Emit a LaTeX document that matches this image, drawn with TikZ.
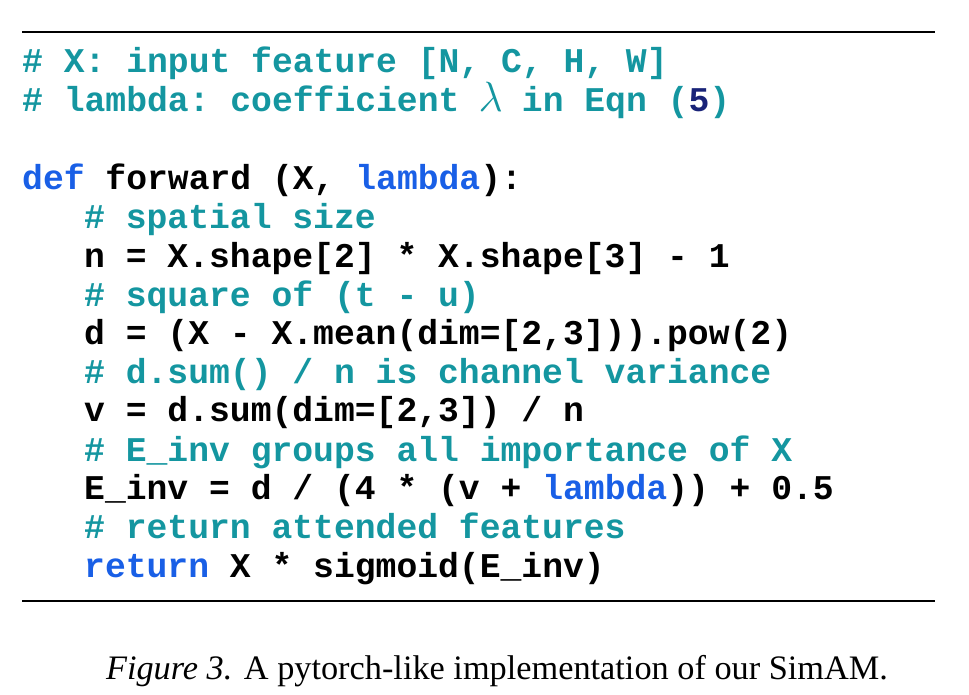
\documentclass[tikz,border=0pt]{standalone}
\usepackage{fontspec}
\setmonofont{Liberation Mono}
\setmainfont{Liberation Serif}
\definecolor{cmt}{RGB}{20,150,160}
\definecolor{kw}{RGB}{25,95,230}
\definecolor{num}{RGB}{25,35,120}
\tikzset{code/.style={anchor=base west,inner sep=0pt,font=\fontsize{34.7}{36}\ttfamily\bfseries},
rule/.style={line width=1.2pt}}
\begin{document}
\begin{tikzpicture}[x=1pt,y=-1pt]
\useasboundingbox (0,0) rectangle (969,694);
\coordinate (r1a) at (22,32); \coordinate (r1b) at (935,32);
\coordinate (r2a) at (22,601); \coordinate (r2b) at (935,601);
\draw[rule] (r1a) -- (r1b);
\draw[rule] (r2a) -- (r2b);
\node[code] (l1) at (22,72) {\color{cmt}\# X: input feature [N, C, H, W]};
\node[code] (l2) at (22,111) {\color{cmt}\# lambda: coefficient \makebox[20.8pt]{\scalebox{1.7}{$\lambda$}} in Eqn (\textcolor{num}{5})};
\node[code] (l3) at (22,189) {\textcolor{kw}{def} forward (X, \textcolor{kw}{lambda}):};
\node[code] (l4) at (84,228) {\color{cmt}\# spatial size};
\node[code] (l5) at (84,267) {n = X.shape[2] * X.shape[3] - 1};
\node[code] (l6) at (84,306) {\color{cmt}\# square of (t - u)};
\node[code] (l7) at (84,344) {d = (X - X.mean(dim=[2,3])).pow(2)};
\node[code] (l8) at (84,383) {\color{cmt}\# d.sum() / n is channel variance};
\node[code] (l9) at (84,421) {v = d.sum(dim=[2,3]) / n};
\node[code] (l10) at (84,461) {\color{cmt}\# E\_inv groups all importance of X};
\node[code] (l11) at (84,499) {E\_inv = d / (4 * (v + \textcolor{kw}{lambda})) + 0.5};
\node[code] (l12) at (84,538) {\color{cmt}\# return attended features};
\node[code] (l13) at (84,577) {\textcolor{kw}{return} X * sigmoid(E\_inv)};
\node[anchor=base,inner sep=0pt,font=\fontsize{34.3}{36}\selectfont] (cap) at (497,679) {\textit{Figure 3.} A pytorch-like implementation of our SimAM.};
\end{tikzpicture}
\end{document}
